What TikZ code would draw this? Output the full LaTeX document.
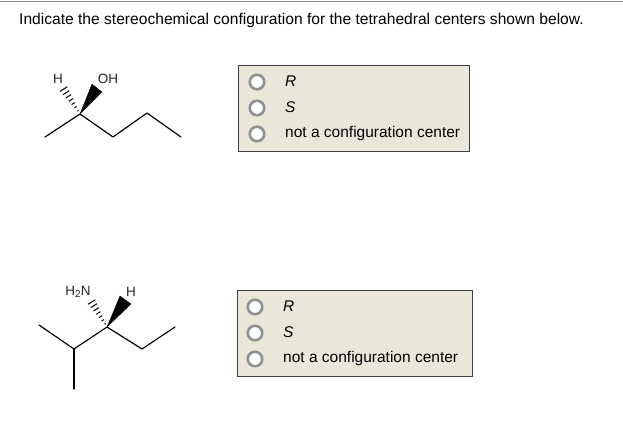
\documentclass[tikz,border=0pt]{standalone}
\usepackage{fontspec}
\setmainfont{Liberation Sans}
\usetikzlibrary{calc}
\definecolor{boxfill}{HTML}{EBE7D8}
\definecolor{radiogray}{HTML}{8C9290}
\tikzset{
  bond/.style={draw=black,line width=1.2pt,line cap=round,line join=round},
  wedgebond/.style={fill=black,draw=black,line width=0.3pt},
  hashbond/.style={draw=black,line width=1pt},
  atom/.style={font=\fontsize{13.5}{15}\selectfont,inner sep=0pt,text=black!85},
  titletext/.style={font=\fontsize{15.6}{18}\selectfont,inner sep=0pt,anchor=base west,text=black},
  choice/.style={font=\fontsize{15.5}{18}\selectfont,inner sep=0pt,anchor=base west,text=black},
  answerbox/.style={draw=black!50!gray,line width=1.6pt,fill=boxfill},
  radio/.style={circle,draw=radiogray,line width=2.6pt,fill=white,minimum size=14.5pt,inner sep=0pt},
}
\newcommand{\hashes}[2]{%
  \foreach \t/\w in {0.12/0.7,0.26/1.3,0.40/1.9,0.54/2.5,0.68/3.1,0.82/3.7,0.96/4.3}{
    \draw[hashbond] ($(#1)!\t!(#2)!\w pt!90:(#2)$) -- ($(#1)!\t!(#2)!\w pt!-90:(#2)$);
  }%
}
\begin{document}
\begin{tikzpicture}[x=1pt,y=-1pt]
\useasboundingbox (0,0) rectangle (623,426);
\fill[white] (0,0) rectangle (623,426);
\coordinate (ruleL) at (0,1.2);
\coordinate (ruleR) at (623,1.2);
\draw[draw=black!45,line width=1pt] (ruleL) -- (ruleR);
\node[titletext] (title) at (19,24) {Indicate the stereochemical configuration for the tetrahedral centers shown below.};

% molecule 1
\coordinate (a1) at (45,137);
\coordinate (a2) at (80,114);
\coordinate (a3) at (113,137);
\coordinate (a4) at (147,113);
\coordinate (a5) at (181,137);
\coordinate (a6) at (92,84);
\coordinate (a7) at (102,92);
\coordinate (a8) at (63,88);
\draw[bond] (a1) -- (a2) -- (a3) -- (a4) -- (a5);
\fill[wedgebond] (a2) -- (a6) -- (a7) -- cycle;
\hashes{a2}{a8}
\node[atom] (oh) at (108,79) {OH};
\node[atom] (h1) at (58,79) {H};

% molecule 2
\coordinate (b1) at (39,325);
\coordinate (b2) at (74,349);
\coordinate (b3) at (107,327);
\coordinate (b4) at (142,349);
\coordinate (b5) at (175,327);
\coordinate (b6) at (74,389);
\coordinate (b7) at (120,296);
\coordinate (b8) at (131,304);
\coordinate (b9) at (91,301);
\draw[bond] (b1) -- (b2) -- (b3) -- (b4) -- (b5);
\draw[bond] (b2) -- (b6);
\fill[wedgebond] (b3) -- (b7) -- (b8) -- cycle;
\hashes{b3}{b9}
\node[atom] (nh) at (78,292) {H\raisebox{-2.5pt}{\fontsize{10}{11}\selectfont 2}N};
\node[atom] (h2) at (131,292) {H};

% box 1
\node[answerbox,minimum width=231pt,minimum height=86pt,inner sep=0pt] (box1) at (354,108.5) {};
\foreach \n/\y in {a/82,b/108,c/134}{ \node[radio] (r1\n) at (257,\y) {}; }
\node[choice] (t1a) at (285,86) {\textit{R}};
\node[choice] (t1b) at (285,112) {\textit{S}};
\node[choice] (t1c) at (285,137) {not a configuration center};

% box 2
\node[answerbox,minimum width=235pt,minimum height=86pt,inner sep=0pt] (box2) at (355,333.5) {};
\foreach \n/\y in {a/307,b/333,c/359}{ \node[radio] (r2\n) at (255,\y) {}; }
\node[choice] (t2a) at (283,311) {\textit{R}};
\node[choice] (t2b) at (283,337) {\textit{S}};
\node[choice] (t2c) at (283,362) {not a configuration center};
\end{tikzpicture}
\end{document}
